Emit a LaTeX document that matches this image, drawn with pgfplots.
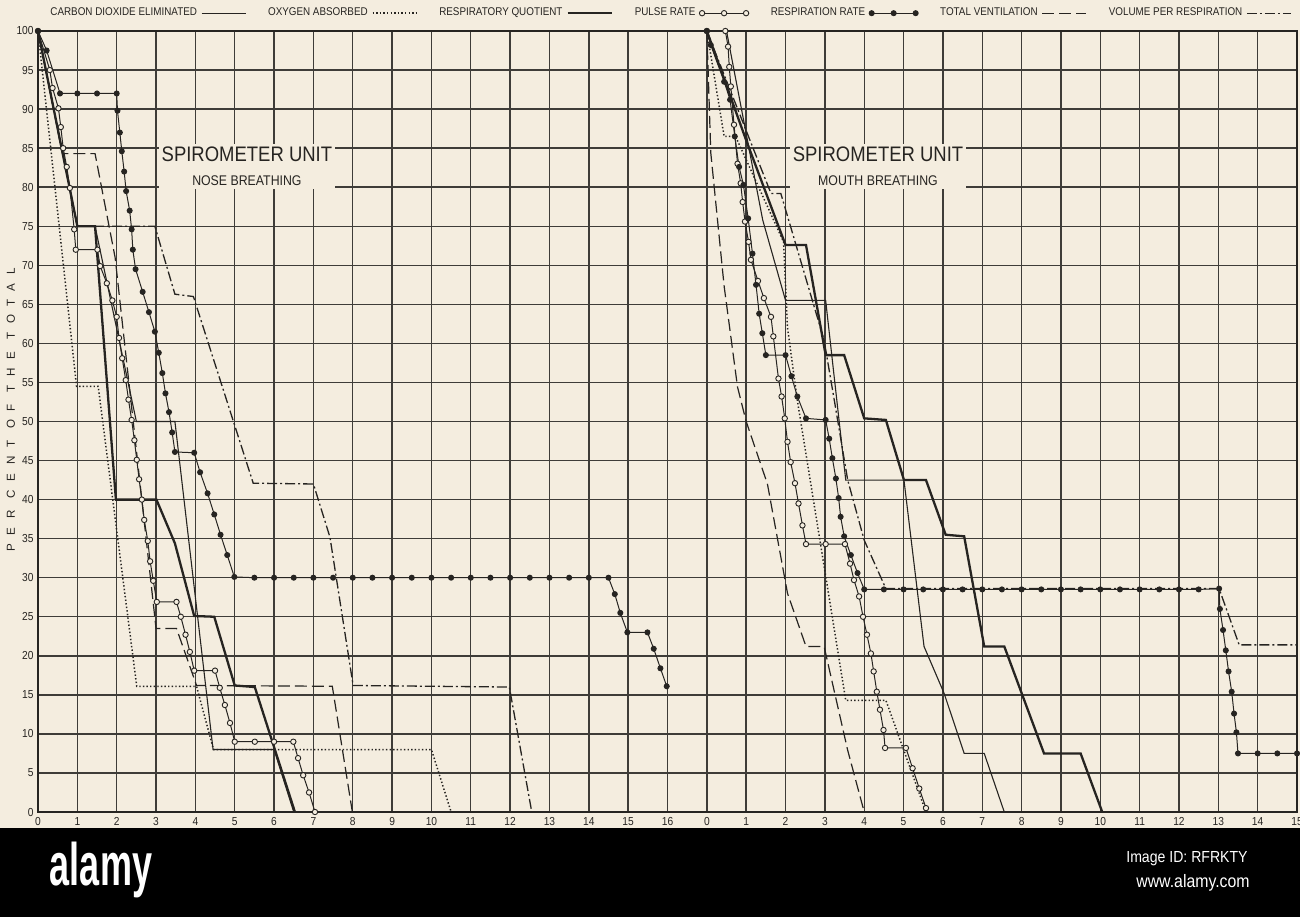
\documentclass[border=0pt]{standalone}
\usepackage{fontspec}
\setmainfont{Liberation Sans}
\newfontfamily\cond[FakeStretch=0.88]{Liberation Sans}
\newfontfamily\spaced[LetterSpace=75]{Liberation Sans}
\newfontfamily\alamyfont[FakeStretch=0.6]{Liberation Sans}
\usepackage{pgfplots}
\pgfplotsset{compat=1.18}

\definecolor{paper}{RGB}{244,237,223}
\definecolor{ink}{RGB}{38,36,33}
\definecolor{gridc}{RGB}{62,60,56}

\pgfplotsset{
  co2/.style={ink, line width=0.55pt, mark=none},
  o2/.style={ink, line width=0.75pt, dash pattern=on 0.7pt off 1.1pt, mark=none},
  rq/.style={ink, line width=1.15pt, mark=none},
  pulse/.style={ink, line width=0.5pt, mark=*, mark size=1.35pt,
    mark options={fill=paper, solid, line width=0.45pt}},
  resp/.style={ink, line width=0.5pt, mark=*, mark size=1.25pt,
    mark options={fill=ink, solid}},
  tv/.style={ink, line width=0.6pt, dash pattern=on 6pt off 2.5pt, mark=none},
  vpr/.style={ink, line width=0.65pt, dash pattern=on 5pt off 1.5pt on 1pt off 1.5pt, mark=none},
}

\begin{document}
\begin{tikzpicture}
\fill[paper] (-19pt,-52.5pt) rectangle (631pt,406pt);
\fill[black] (-19pt,-52.5pt) rectangle (631pt,-8pt);

\begin{axis}[
    at={(0pt,0pt)}, anchor=south west,
    scale only axis,
    width=629.5pt, height=390.5pt,
    xmin=0, xmax=32, ymin=0, ymax=100,
    xtick={0,...,32},
    xticklabels={0,1,2,3,4,5,6,7,8,9,10,11,12,13,14,15,16,0,1,2,3,4,5,6,7,8,9,10,11,12,13,14,15},
    ytick={0,5,...,100},
    grid=major,
    grid style={gridc, line width=0.7pt},
    major tick length=0pt,
    axis line style={ink, line width=0.9pt},
    /pgf/number format/assume math mode=true,
    tick label style={font={\cond\fontsize{5.8}{7}\selectfont}, text=ink},
    xticklabel style={inner sep=1pt, yshift=-1.5pt},
    yticklabel style={inner sep=1pt, xshift=-1pt},
    clip=false,
    legend columns=7,
    legend plot pos=right,
    legend image code/.code={\draw[#1] plot coordinates {(0pt,0pt) (11pt,0pt) (22pt,0pt)};},
    legend style={draw=none, fill=none, inner sep=0pt, at={(0,1)}, anchor=south west,
      xshift=4pt, yshift=4pt, font={\cond\fontsize{5.6}{6}\selectfont}, text=ink,
      /tikz/every even column/.append style={column sep=9pt}},
]

% ---- nose breathing (left) ----
\addplot[co2] coordinates {
  (0,100) (1.0,75) (1.45,75) (2.5,50) (3.48,50) (4.45,8) (6.0,8) (6.5,0)
};
\addlegendentry{CARBON DIOXIDE ELIMINATED}

\addplot[o2] coordinates {
  (0,100) (0.98,54.5) (1.53,54.5) (2.51,16.1) (4.03,16.1) (4.46,8) (10.0,8) (10.5,0)
};
\addlegendentry{OXYGEN ABSORBED}

\addplot[rq] coordinates {
  (0,100) (1.0,75) (1.45,75) (1.98,40) (3.01,40) (3.48,34.4) (3.97,25.1)
  (4.48,25) (5.0,16.2) (5.51,16) (6.53,0)
};
\addlegendentry{RESPIRATORY QUOTIENT}

\addplot[pulse] coordinates {
  (0,100) (0.3,95) (0.37,92.7) (0.52,90.1) (0.58,87.7) (0.64,85) (0.73,82.6)
  (0.81,79.9) (0.92,74.6) (0.96,72) (1.51,72) (1.58,69.9) (1.75,67.7) (1.89,65.5)
  (2.0,63.4) (2.06,60.7) (2.14,58.1) (2.23,55.3) (2.3,52.8) (2.38,50.2) (2.45,47.6)
  (2.51,45.1) (2.57,42.6) (2.64,40) (2.7,37.4) (2.79,34.7) (2.85,32.1) (2.93,29.6)
  (3.02,26.9) (3.52,26.9) (3.63,25) (3.75,22.7) (3.86,20.5) (3.97,18.1) (4.5,18.1)
  (4.62,15.9) (4.75,13.7) (4.88,11.4) (5.0,9.0) (5.51,9.0) (6.0,9.0) (6.49,9.0)
  (6.61,6.9) (6.74,4.7) (6.89,2.5) (7.04,0)
};
\addlegendentry{PULSE RATE}

\addplot[resp] coordinates {
  (0,100) (0.22,97.5) (0.56,92) (1.0,92) (1.5,92) (2.0,92) (2.02,89.8) (2.08,87)
  (2.13,84.6) (2.19,82) (2.24,79.5) (2.33,77) (2.38,74.6) (2.41,72) (2.48,69.5)
  (2.66,66.6) (2.82,64) (2.97,61.5) (3.07,58.8) (3.16,56.2) (3.24,53.6) (3.33,51.2)
  (3.41,48.6) (3.48,46.1) (3.97,46) (4.12,43.5) (4.31,40.8) (4.48,38.1) (4.64,35.5)
  (4.81,32.9) (4.99,30.1) (5.5,30) (6,30) (6.5,30) (7,30) (7.5,30) (8,30) (8.5,30)
  (9,30) (9.5,30) (10,30) (10.5,30) (11,30) (11.5,30) (12,30) (12.5,30) (13,30)
  (13.5,30) (14,30) (14.5,30) (14.66,27.9) (14.8,25.5) (14.98,23) (15.49,23)
  (15.65,20.9) (15.82,18.4) (15.98,16.1)
};
\addlegendentry{RESPIRATION RATE}

\addplot[tv] coordinates {
  (0,100) (0.62,84.3) (1.45,84.3) (1.96,71) (3.0,23.5) (3.52,23.5) (4.03,16.2)
  (7.48,16.1) (7.99,0)
};
\addlegendentry{TOTAL VENTILATION}

\addplot[vpr] coordinates {
  (0,100) (1.0,75) (2.97,75) (3.48,66.3) (3.95,66) (5.47,42.1) (7.0,42) (7.42,35.2)
  (8.01,16.2) (11.98,16) (12.55,0)
};
\addlegendentry{VOLUME PER RESPIRATION}

% ---- mouth breathing (right), plotted from 17 on ----
\addplot[co2, forget plot] coordinates {
  (17,100) (17.5,100) (18.42,75.8) (19,65.5) (20.02,65.5) (20.53,42.5) (22.01,42.5)
  (22.52,21.2) (23.03,15.2) (23.54,7.5) (24.05,7.5) (24.56,0)
};
\addplot[o2, forget plot] coordinates {
  (17,100) (17.44,86.5) (17.73,86.5) (18.95,73) (19.05,62) (19.3,52.7) (20.53,14.3)
  (21.55,14.3) (22.57,0)
};
\addplot[rq, forget plot] coordinates {
  (17,100) (18,86) (19,72.6) (19.52,72.6) (20.02,58.5) (20.49,58.5) (21,50.4)
  (21.55,50.2) (22.01,42.5) (22.57,42.5) (23.07,35.5) (23.54,35.3) (24.05,21.2)
  (24.56,21.2) (25.57,7.5) (26.5,7.5) (27.05,0)
};
\addplot[pulse, forget plot] coordinates {
  (17,100) (17.47,100) (17.54,98) (17.57,95.4) (17.61,92.9) (17.69,88) (17.78,83)
  (17.86,80.5) (17.91,78.1) (17.97,75.6) (18.06,73) (18.12,70.7) (18.3,68)
  (18.45,65.8) (18.63,63.4) (18.69,60.9) (18.82,55.5) (18.9,53.2) (18.98,50.4)
  (19.05,47.4) (19.13,44.8) (19.24,42.1) (19.33,39.5) (19.43,36.7) (19.52,34.3)
  (20.02,34.3) (20.51,34.3) (20.64,31.8) (20.74,29.7) (20.87,27.6) (20.97,25)
  (21.07,22.7) (21.17,20.3) (21.24,18) (21.32,15.4) (21.4,13.1) (21.49,10.5)
  (21.53,8.2) (22.06,8.2) (22.23,5.6) (22.4,3.0) (22.57,0.5)
};
\addplot[resp, forget plot] coordinates {
  (17,100) (17.1,98.2) (17.44,93.5) (17.59,91.2) (17.71,86.5) (17.82,82.6)
  (17.93,80.3) (18.05,76) (18.16,71.5) (18.25,67.5) (18.33,63.8) (18.41,61.3)
  (18.5,58.5) (19,58.5) (19.15,55.8) (19.3,53.2) (19.52,50.4) (20.02,50.2)
  (20.11,47.8) (20.19,45.3) (20.28,42.7) (20.35,40.2) (20.4,37.8) (20.49,35.3)
  (20.66,32.9) (20.83,30.6) (21,28.5) (21.5,28.5) (22,28.5) (22.5,28.5) (23,28.5)
  (23.5,28.5) (24,28.5) (24.5,28.5) (25,28.5) (25.5,28.5) (26,28.5) (26.5,28.5)
  (27,28.5) (27.5,28.5) (28,28.5) (28.5,28.5) (29,28.5) (29.5,28.5) (30.02,28.6)
  (30.04,26) (30.12,23.3) (30.19,20.7) (30.26,18) (30.34,15.4) (30.4,12.6)
  (30.46,10.2) (30.5,7.5) (31,7.5) (31.5,7.5) (32,7.5)
};
\addplot[tv, forget plot] coordinates {
  (17,100) (17.1,84.4) (17.44,67.3) (17.78,54.4) (18,50) (18.54,42) (19.05,28)
  (19.52,21.2) (19.98,21.2) (20.58,7.9) (21,0)
};
\addplot[vpr, forget plot] coordinates {
  (17,100) (18.63,79.2) (18.88,79.2) (19.98,60.4) (20.24,52.7) (20.58,42.5)
  (21,34.8) (21.55,28.6) (30.02,28.6) (30.53,21.4) (32,21.4)
};

\node[fill=paper, inner sep=1.5pt, align=center, text=ink]
  at (axis cs:5.31,82.7)
  {{\cond\fontsize{10.5}{10.75}\selectfont SPIROMETER UNIT}\\
   {\cond\fontsize{7}{7}\selectfont NOSE BREATHING}};
\node[fill=paper, inner sep=1.5pt, align=center, text=ink]
  at (axis cs:21.35,82.7)
  {{\cond\fontsize{10.5}{10.75}\selectfont SPIROMETER UNIT}\\
   {\cond\fontsize{7}{7}\selectfont MOUTH BREATHING}};
\end{axis}

\node[rotate=90, text=ink, font={\spaced\fontsize{5.8}{6}\selectfont}]
  at (-13.5pt,201pt) {PER CENT OF THE TOTAL};

\node[white, font={\alamyfont\bfseries\fontsize{30}{30}\selectfont}, inner sep=0pt]
  at (31.5pt,-29pt) {alamy};
\node[white, anchor=east, inner sep=0pt, font={\cond\fontsize{8}{8}\selectfont}]
  at (605pt,-23.5pt) {Image ID: RFRKTY};
\node[white, anchor=east, inner sep=0pt, font={\cond\fontsize{9}{9}\selectfont}]
  at (606pt,-35.5pt) {www.alamy.com};

\pgfresetboundingbox
\path (-19pt,-52.5pt) rectangle (631pt,406pt);
\end{tikzpicture}
\end{document}
